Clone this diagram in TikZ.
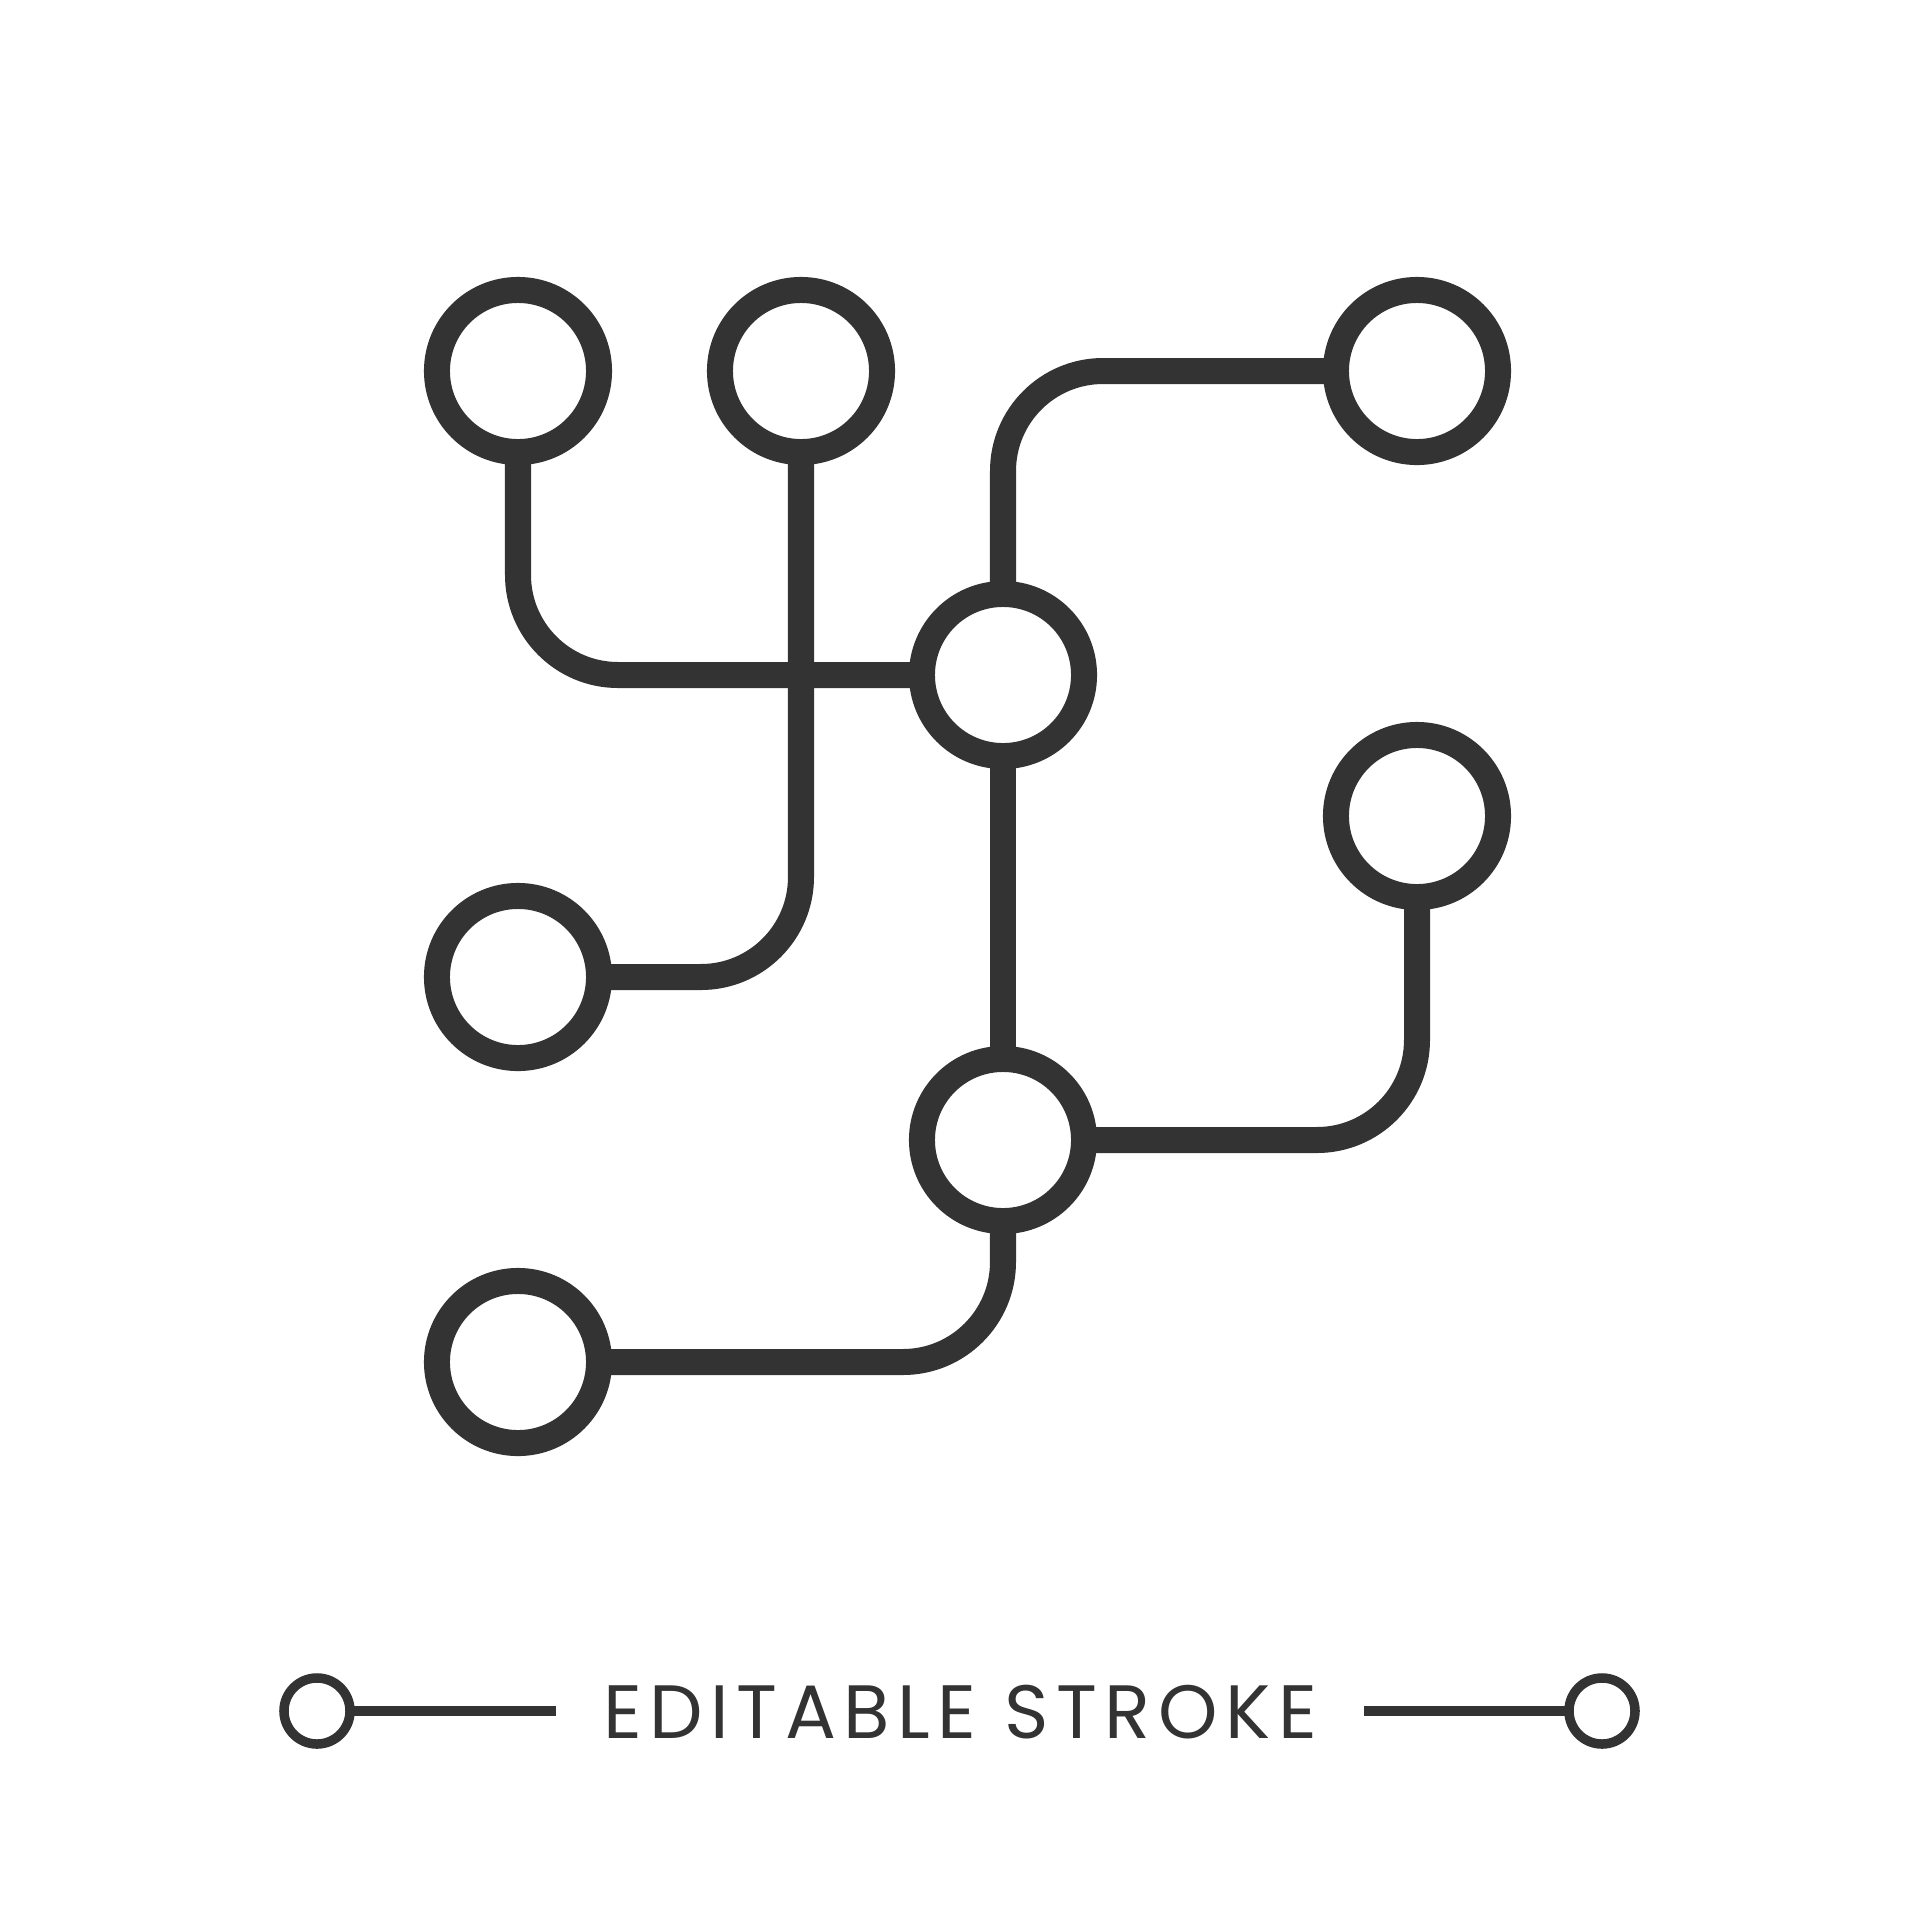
\documentclass[tikz,border=0pt]{standalone}
\usepackage{fontspec}
\setmainfont{Poppins}
\usetikzlibrary{positioning}
\definecolor{ink}{HTML}{333333}

\begin{document}
\begin{tikzpicture}[
  x=0.01cm, y=-0.01cm,
  dot/.style={circle, draw=ink, line width=0.26cm, minimum size=1.62cm, inner sep=0pt, outer sep=0pt},
  wire/.style={draw=ink, line width=0.26cm, rounded corners=1cm},
  tip/.style={circle, draw=ink, line width=0.095cm, minimum size=0.66cm, inner sep=0pt, outer sep=0pt},
  rule/.style={draw=ink, line width=0.095cm},
]
\useasboundingbox[fill=white] (0,0) rectangle (1920,1920);

% hubs and leaves
\node[dot] (hubA) at (1003,675) {};
\node[dot] (hubB) at (1003,1140) {};
\node[dot] (leafA) at (518,371) {};
\node[dot] (leafB) at (801,371) {};
\node[dot] (leafC) at (1417,371) {};
\node[dot] (leafD) at (1417,816) {};
\node[dot] (leafE) at (518,977) {};
\node[dot] (leafF) at (518,1362) {};

% connectors
\path[wire] (leafA.south) |- (hubA.west);
\path[wire] (leafB.south) |- (leafE.east);
\path[wire] (hubA.north) |- (leafC.west);
\path[wire] (hubA.south) -- (hubB.north);
\path[wire] (hubB.east) -| (leafD.south);
\path[wire] (hubB.south) |- (leafF.east);

% caption
\node[text=ink, font=\fontsize{21.5}{24}\selectfont, inner sep=0pt] (caption) at (960,1712)
  {\addfontfeatures{LetterSpace=10}EDITABLE STROKE};
\node[tip] (tipL) at (317,1711) {};
\node[tip] (tipR) at (1602,1711) {};
\coordinate (endL) at (556,1711);
\coordinate (endR) at (1364,1711);
\draw[rule] (tipL.east) -- (endL);
\draw[rule] (endR) -- (tipR.west);
\end{tikzpicture}
\end{document}
